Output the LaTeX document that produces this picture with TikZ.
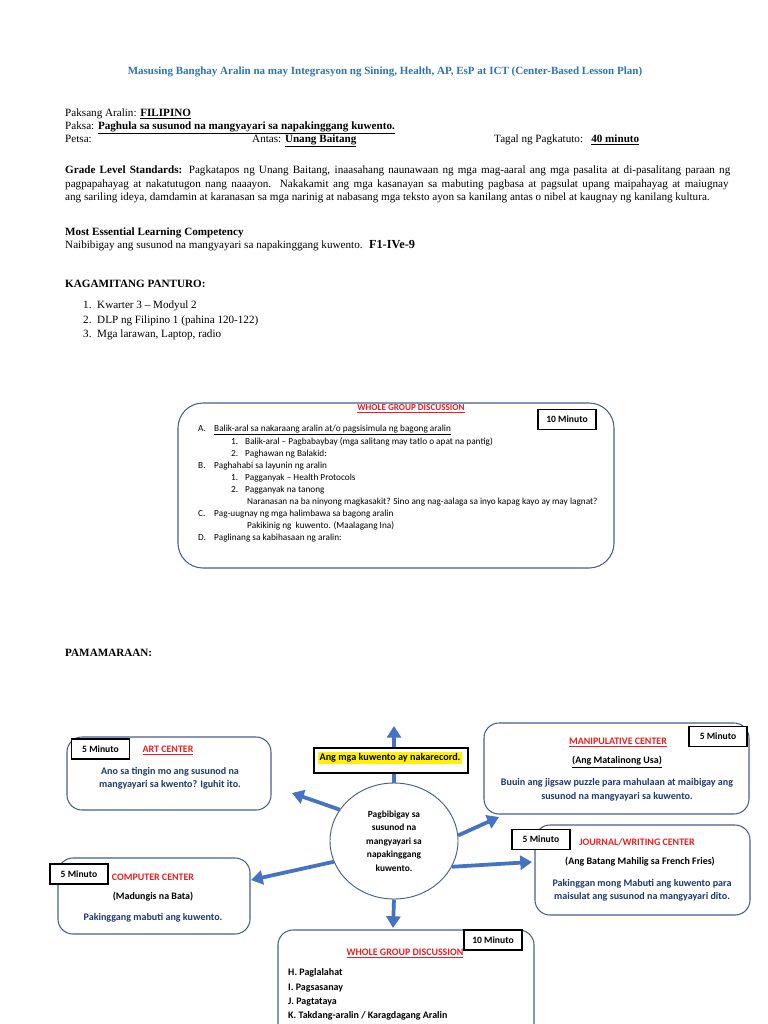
\documentclass[tikz,border=0pt]{standalone}
\usepackage{fontspec}
\setmainfont{Liberation Serif}
\newfontfamily\calib{Carlito}
\usetikzlibrary{shapes.geometric,arrows.meta}

\definecolor{titleblue}{RGB}{46,116,181}
\definecolor{boxline}{RGB}{72,94,140}
\definecolor{arrowblue}{RGB}{68,114,196}
\definecolor{navytext}{RGB}{31,56,110}
\definecolor{centerred}{RGB}{235,30,35}

\begin{document}
\begin{tikzpicture}[
    x=0.03cm, y=-0.03cm,
    every node/.style={inner sep=0pt},
    body/.style={anchor=base west, font=\fontsize{9.5}{11.5}\selectfont},
    bodybold/.style={body, font=\bfseries\fontsize{9.5}{11.5}\selectfont},
    panel/.style={draw=boxline, line width=0.9pt, rounded corners=0.45cm},
    minbox/.style={draw=black, line width=0.9pt, fill=white, minimum width=1.74cm, minimum height=0.6cm, font=\calib\bfseries\fontsize{8.2}{9}\selectfont},
    boxitem/.style={anchor=base west, font=\calib\fontsize{7.9}{9}\selectfont},
    redhead/.style={font=\calib\bfseries\fontsize{8.5}{9}\selectfont, text=centerred},
    task/.style={align=center, font=\calib\bfseries\fontsize{8.6}{11.5}\selectfont, text=navytext},
    story/.style={font=\calib\bfseries\fontsize{8.5}{9}\selectfont},
    hub/.style={ellipse, draw=boxline, line width=0.8pt, minimum width=3.84cm, minimum height=3.48cm, align=center, font=\calib\bfseries\fontsize{8}{11.5}\selectfont},
    arrow/.style={-{Triangle[length=10pt,width=12pt]}, line width=3.2pt, draw=arrowblue}
    ]

    \useasboundingbox (0,0) rectangle (768,1024);
    \clip (0,0) rectangle (768,1024);
    \fill[white] (0,0) rectangle (768,1024);

    % heading
    \node[font=\bfseries\fontsize{9.4}{11}\selectfont, text=titleblue] (title) at (385,72) {Masusing Banghay Aralin na may Integrasyon ng Sining, Health, AP, EsP at ICT (Center-Based Lesson Plan)};

    \node[body] (paksang) at (65,116.5) {Paksang Aralin: \underline{\textbf{FILIPINO}}};
    \node[body] (paksa) at (65,129.5) {Paksa: \underline{\textbf{Paghula sa susunod na mangyayari sa napakinggang kuwento.}}};
    \node[body] (petsa) at (65,142.5) {Petsa:};
    \node[body] (antas) at (252,142.5) {Antas: \underline{\textbf{Unang Baitang}}};
    \node[body] (tagal) at (494,142.5) {Tagal ng Pagkatuto:\hspace{7pt}\underline{\textbf{40 minuto}}};

    \node[body, anchor=north west, align=left] (standards) at (65,166) {\makebox[19.95cm][s]{\textbf{Grade Level Standards:} Pagkatapos ng Unang Baitang, inaasahang naunawaan ng mga mag-aaral ang mga pasalita at di-pasalitang paraan ng}\\
    \makebox[19.9cm][s]{pagpapahayag at nakatutugon nang naaayon. Nakakamit ang mga kasanayan sa mabuting pagbasa at pagsulat upang maipahayag at maiugnay}\\
    ang sariling ideya, damdamin at karanasan sa mga narinig at nabasang mga teksto ayon sa kanilang antas o nibel at kaugnay ng kanilang kultura.};

    \node[bodybold] (melc) at (65,235.5) {Most Essential Learning Competency};
    \node[body] (melctext) at (65,248.5) {Naibibigay ang susunod na mangyayari sa napakinggang kuwento. \ \textbf{\fontsize{10.5}{12}\selectfont F1-IVe-9}};

    \node[bodybold] (kagamitan) at (65,287.5) {KAGAMITANG PANTURO:};
    \foreach \n/\yy/\t in {1/308.5/{Kwarter 3 – Modyul 2}, 2/323.5/{DLP ng Filipino 1 (pahina 120-122)}, 3/337.5/{Mga larawan, Laptop, radio}} {
        \node[body] (num\n) at (83,\yy) {\n.};
        \node[body] (item\n) at (97,\yy) {\t};
    }

    % whole group discussion (top)
    \node[panel, rounded corners=0.75cm, minimum width=13.08cm, minimum height=4.95cm] (wholegroup) at (396,485.5) {};
    \node[redhead, font=\calib\bfseries\fontsize{7.8}{9}\selectfont] (wghead) at (411,409) {\underline{WHOLE GROUP DISCUSSION}};
    \node[minbox] (wgtime) at (567,419.5) {10 Minuto};
    \foreach \xl/\xt/\yy/\lb/\t [count=\i] in {
        198/214/431/A./{\underline{Balik-aral sa nakaraang aralin at/o pagsisimula ng bagong aralin}},
        231/245/444/1./{Balik-aral – Pagbabaybay (mga salitang may tatlo o apat na pantig)},
        231/245/456/2./{Paghawan ng Balakid:},
        198/214/468/B./{Paghahabi sa layunin ng aralin},
        231/245/480/1./{Pagganyak – Health Protocols},
        231/245/492/2./{Pagganyak na tanong},
        231/247/504/{}/{Naranasan na ba ninyong magkasakit? Sino ang nag-aalaga sa inyo kapag kayo ay may lagnat?},
        198/214/516/C./{Pag-uugnay ng mga halimbawa sa bagong aralin},
        231/247/528/{}/{Pakikinig ng \ kuwento. (Maalagang Ina)},
        198/214/540/D./{Paglinang sa kabihasaan ng aralin:}} {
        \node[boxitem] (wgl\i) at (\xl,\yy) {\lb};
        \node[boxitem] (wgt\i) at (\xt,\yy) {\t};
    }

    \node[bodybold] (pamamaraan) at (65,656.5) {PAMAMARAAN:};

    % centers
    \node[hub] (hub) at (394,841) {Pagbibigay sa\\susunod na\\mangyayari sa\\napakinggang\\kuwento.};

    \coordinate (uptip) at (394,726);
    \coordinate (arttip) at (292,793);
    \coordinate (computertip) at (251,880);
    \coordinate (closingtip) at (393,928);
    \coordinate (maniptip) at (499,817);
    \coordinate (journaltip) at (532,862);

    \draw[arrow] (hub.north) -- (uptip);
    \draw[arrow] (hub.150) -- (arttip);
    \draw[arrow] (hub.199) -- (computertip);
    \draw[arrow] (hub.south) -- (closingtip);
    \draw[arrow] (hub.5) -- (maniptip);
    \draw[arrow] (hub.336) -- (journaltip);

    \node[draw=black, line width=0.9pt, fill=white, minimum width=4.62cm, minimum height=0.75cm] (recorded) at (391,760.5) {};
    \node[fill=yellow, inner sep=1pt, font=\calib\bfseries\fontsize{8.7}{10}\selectfont] (recordtext) at (390,758) {Ang mga kuwento ay nakarecord.};

    \node[panel, minimum width=6.12cm, minimum height=2.19cm] (art) at (169,773.5) {};
    \node[minbox] (arttime) at (100.5,749) {5 Minuto};
    \node[redhead] (arthead) at (168,750) {\underline{ART CENTER}};
    \node[task] (arttask) at (170,778.5) {Ano sa tingin mo ang susunod na\\mangyayari sa kwento? Iguhit ito.};

    \node[panel, minimum width=7.95cm, minimum height=2.73cm] (manip) at (616.5,768.5) {};
    \node[minbox] (maniptime) at (718,736.5) {5 Minuto};
    \node[redhead] (maniphead) at (618,742) {\underline{MANIPULATIVE CENTER}};
    \node[story] (manipstory) at (617,762) {\underline{(Ang Matalinong Usa)}};
    \node[task] (maniptask) at (617,790) {Buuin ang jigsaw puzzle para mahulaan at maibigay ang\\susunod na mangyayari sa kuwento.};

    \node[panel, minimum width=6.45cm, minimum height=2.7cm] (journal) at (642.5,870) {};
    \node[minbox] (journaltime) at (541,839.5) {5 Minuto};
    \node[redhead] (journalhead) at (637,842) {JOURNAL/WRITING CENTER};
    \node[story] (journalstory) at (640,862) {(Ang Batang Mahilig sa French Fries)};
    \node[task] (journaltask) at (642,890.5) {Pakinggan mong Mabuti ang kuwento para\\maisulat ang susunod na mangyayari dito.};

    \node[panel, minimum width=5.76cm, minimum height=2.28cm] (computer) at (154,896) {};
    \node[minbox] (computertime) at (79,874) {5 Minuto};
    \node[redhead] (computerhead) at (153,877) {COMPUTER CENTER};
    \node[story] (computerstory) at (153,897) {(Madungis na Bata)};
    \node[task] (computertask) at (153,918) {Pakinggang mabuti ang kuwento.};

    % whole group discussion (bottom)
    \node[panel, minimum width=7.68cm, minimum height=3.3cm] (closing) at (406,985) {};
    \node[redhead] (closinghead) at (405,953) {\underline{WHOLE GROUP DISCUSSION}};
    \node[minbox] (closingtime) at (493,940) {10 Minuto};
    \foreach \yy/\t [count=\i] in {973/{H. Paglalahat}, 988/{I. Pagsasanay}, 1002/{J. Pagtataya}, 1016/{K. Takdang-aralin / Karagdagang Aralin}} {
        \node[story, anchor=west] (closingitem\i) at (288,\yy) {\t};
    }

\end{tikzpicture}
\end{document}
